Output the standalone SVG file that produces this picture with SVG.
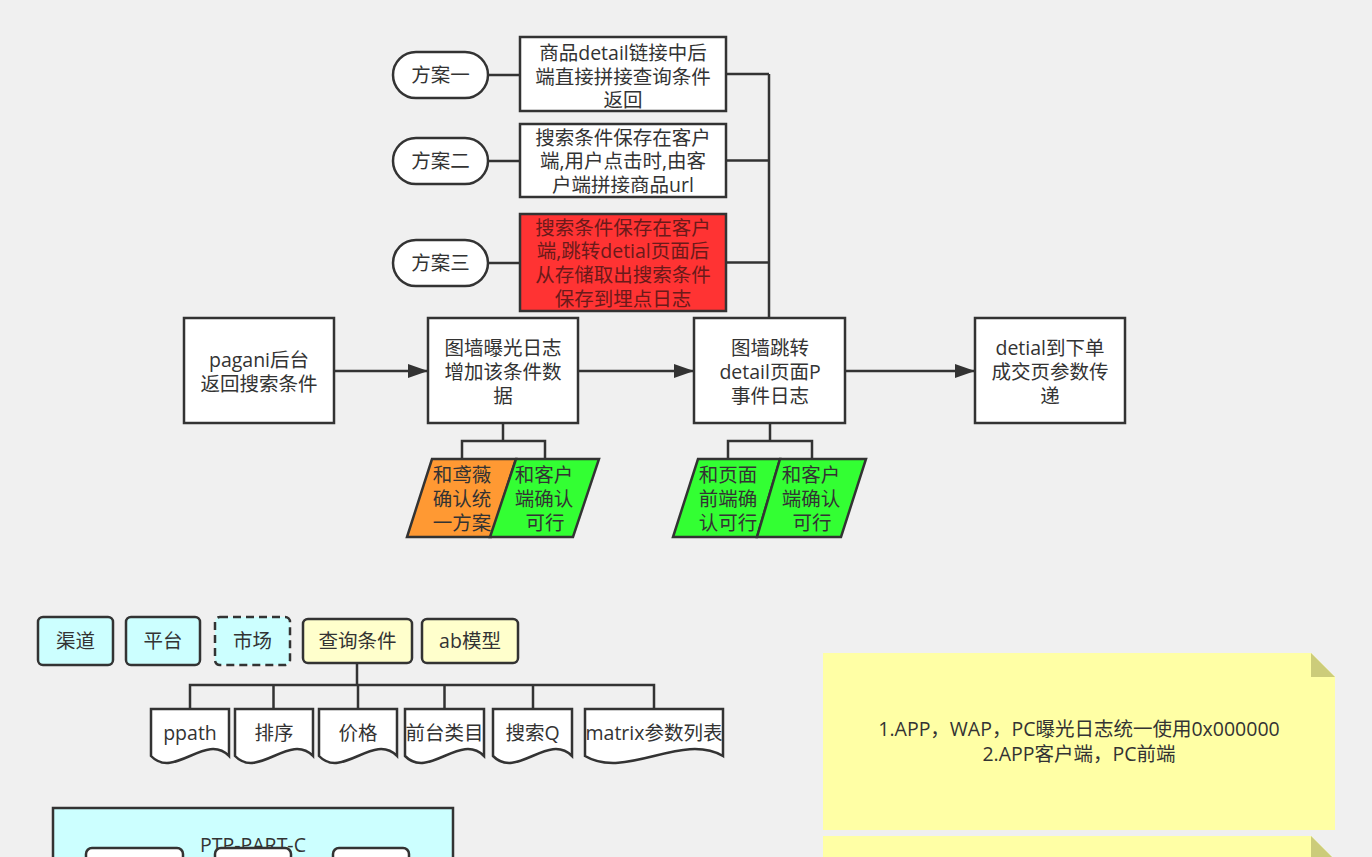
<svg xmlns="http://www.w3.org/2000/svg" width="1372" height="857" viewBox="0 0 1372 857">
<defs>
<style>
text{font-family:"Open Sans","Noto Sans CJK SC","Noto Sans",sans-serif;font-size:19.5px;fill:#333;text-anchor:middle}
.box{fill:#fff;stroke:#333;stroke-width:2.5}
.pill{fill:#fff;stroke:#333;stroke-width:2.5}
.ln{fill:none;stroke:#333;stroke-width:2.5}
.tagc{fill:#ccffff;stroke:#333;stroke-width:2.5}
.tagy{fill:#ffffcc;stroke:#333;stroke-width:2.5}
.doc{fill:#fff;stroke:#333;stroke-width:2.5}
.note{fill:#ffffa5}
.fold{fill:#cccc7a}
.red{fill:#6b1a1a}
</style>
<marker id="arr" markerUnits="userSpaceOnUse" markerWidth="20" markerHeight="14" refX="20" refY="7" orient="auto">
<path d="M0,0 L20,7 L0,14 Z" fill="#333"/>
</marker>
</defs>
<rect width="1372" height="857" fill="#f0f0f0"/>

<g id="connectors">
<path class="ln" d="M488,75 H520"/>
<path class="ln" d="M488,161 H520"/>
<path class="ln" d="M488,263 H520"/>
<path class="ln" d="M726,74 H769 M726,160.5 H769 M726,262.5 H769 M769,74 V318"/>
<path class="ln" d="M334,371 H428" marker-end="url(#arr)"/>
<path class="ln" d="M578,371 H694" marker-end="url(#arr)"/>
<path class="ln" d="M845,371 H975" marker-end="url(#arr)"/>
<path class="ln" d="M503,423 V441 M462,459 V441 H545 V459"/>
<path class="ln" d="M770,423 V441 M728,459 V441 H812 V459"/>
<path class="ln" d="M357,663 V685 M190,709 V685 H654 V709 M273.5,685 V709 M358,685 V709 M444.5,685 V709 M533,685 V709"/>
</g>

<g id="p1"><rect class="pill" x="393" y="52" width="95" height="46" rx="23"/><text x="440.5" y="82">方案一</text></g>
<g id="p2"><rect class="pill" x="393" y="138" width="95" height="46" rx="23"/><text x="440.5" y="168">方案二</text></g>
<g id="p3"><rect class="pill" x="393" y="240" width="95" height="46" rx="23"/><text x="440.5" y="270">方案三</text></g>

<g id="b1"><rect class="box" x="520" y="37" width="206" height="74"/>
<text x="623" y="60">商品detail链接中后<tspan x="623" dy="23.5">端直接拼接查询条件</tspan><tspan x="623" dy="23.5">返回</tspan></text></g>
<g id="b2"><rect class="box" x="520" y="124" width="206" height="73"/>
<text x="623" y="144.5">搜索条件保存在客户<tspan x="623" dy="23.7">端,用户点击时,由客</tspan><tspan x="623" dy="23.7">户端拼接商品url</tspan></text></g>
<g id="b3"><rect class="box" x="520" y="214" width="206" height="97" style="fill:#ff3333"/>
<text class="red" x="623" y="234.5">搜索条件保存在客户<tspan x="623" dy="23.8">端,跳转detial页面后</tspan><tspan x="623" dy="23.8">从存储取出搜索条件</tspan><tspan x="623" dy="23.8">保存到埋点日志</tspan></text></g>

<g id="n1"><rect class="box" x="184" y="318" width="150" height="105"/>
<text x="259" y="367">pagani后台<tspan x="259" dy="23.5">返回搜索条件</tspan></text></g>
<g id="n2"><rect class="box" x="428" y="318" width="150" height="105"/>
<text x="503" y="355">图墙曝光日志<tspan x="503" dy="24">增加该条件数</tspan><tspan x="503" dy="24">据</tspan></text></g>
<g id="n3"><rect class="box" x="694" y="318" width="151" height="105"/>
<text x="770" y="355">图墙跳转<tspan x="770" dy="24">detail页面P</tspan><tspan x="770" dy="24">事件日志</tspan></text></g>
<g id="n4"><rect class="box" x="975" y="318" width="150" height="105"/>
<text x="1050" y="355">detial到下单<tspan x="1050" dy="24">成交页参数传</tspan><tspan x="1050" dy="24">递</tspan></text></g>

<g id="q1"><path class="box" d="M432,459 H516 L491,537 H407 Z" style="fill:#ff9933"/>
<text x="462" y="482">和鸢薇<tspan x="462" dy="24">确认统</tspan><tspan x="462" dy="24">一方案</tspan></text></g>
<g id="q2"><path class="box" d="M516,459 H599 L573,537 H490 Z" style="fill:#33ff33"/>
<text x="544" y="482">和客户<tspan x="544" dy="24">端确认</tspan><tspan x="545" dy="24">可行</tspan></text></g>
<g id="q3"><path class="box" d="M698,459 H780 L757,537 H673 Z" style="fill:#33ff33"/>
<text x="728" y="482">和页面<tspan x="728" dy="24">前端确</tspan><tspan x="728" dy="24">认可行</tspan></text></g>
<g id="q4"><path class="box" d="M780,459 H866 L841,537 H757 Z" style="fill:#33ff33"/>
<text x="811" y="482">和客户<tspan x="811" dy="24">端确认</tspan><tspan x="812" dy="24">可行</tspan></text></g>

<g id="t1"><rect class="tagc" x="38" y="617" width="75" height="48" rx="5"/><text x="75.5" y="648">渠道</text></g>
<g id="t2"><rect class="tagc" x="126" y="617" width="74" height="48" rx="5"/><text x="163" y="648">平台</text></g>
<g id="t3"><rect class="tagc" x="215" y="617" width="75" height="48" rx="5" stroke-dasharray="8,5"/><text x="252.5" y="648">市场</text></g>
<g id="t4"><rect class="tagy" x="303" y="619" width="109" height="44" rx="5"/><text x="357.5" y="648">查询条件</text></g>
<g id="t5"><rect class="tagy" x="422" y="619" width="96" height="44" rx="5"/><text x="470" y="648">ab模型</text></g>

<g id="d1"><path class="doc" d="M151,709 H229 V756 C205.6,732 174.4,780 151,756 Z"/><text x="190" y="740">ppath</text></g>
<g id="d2"><path class="doc" d="M235,709 H313 V756 C289.6,732 258.4,780 235,756 Z"/><text x="274" y="740">排序</text></g>
<g id="d3"><path class="doc" d="M319,709 H397 V756 C373.6,732 342.4,780 319,756 Z"/><text x="358" y="740">价格</text></g>
<g id="d4"><path class="doc" d="M405,709 H484 V756 C460.3,732 428.7,780 405,756 Z"/><text x="444.5" y="740">前台类目</text></g>
<g id="d5"><path class="doc" d="M493,709 H572 V756 C548.3,732 516.7,780 493,756 Z"/><text x="532.5" y="740">搜索Q</text></g>
<g id="d6"><path class="doc" d="M585,709 H723 V756 C681.6,732 626.4,780 585,756 Z"/><text x="654" y="740">matrix参数列表</text></g>

<g id="ptp"><rect x="53" y="808" width="400" height="70" fill="#ccffff" stroke="#333" stroke-width="2.5"/>
<text x="253" y="852">PTP-PART-C</text>
<rect class="box" x="86" y="848" width="97" height="30" rx="6"/>
<rect class="box" x="215" y="848" width="76" height="30" rx="6"/>
<rect class="box" x="333" y="848" width="76" height="30" rx="6"/></g>

<g id="note1"><path class="note" d="M823,653 H1311 L1335,677 V830 H823 Z"/><path class="fold" d="M1311,653 V677 H1335 Z"/>
<text x="1079" y="736">1.APP，WAP，PC曝光日志统一使用0x000000<tspan x="1079" dy="25">2.APP客户端，PC前端</tspan></text></g>
<g id="note2"><path class="note" d="M823,836 H1311 L1335,860 V870 H823 Z"/><path class="fold" d="M1311,836 V860 H1335 Z"/></g>
</svg>
